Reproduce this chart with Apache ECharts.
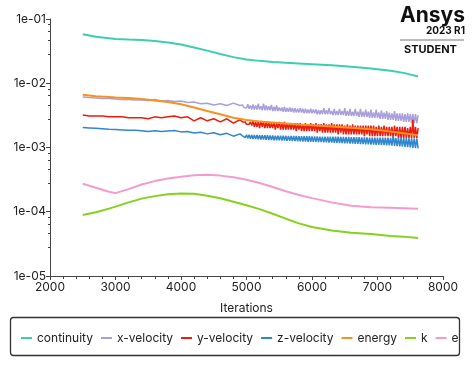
<!DOCTYPE html>
<html>
<head>
<meta charset="utf-8">
<script src="https://cdn.jsdelivr.net/npm/echarts@6/dist/echarts.min.js"></script>
<style>
html,body{margin:0;padding:0;background:#fff;}
#chart{width:474px;height:371px;}
</style>
</head>
<body>
<div id="chart"></div>
<script>
// ---- data ----
const seriesNames = ['continuity', 'x-velocity', 'y-velocity', 'z-velocity', 'energy', 'k', 'e'];
const yTickValues = [1e-5, 1e-4, 1e-3, 1e-2, 1e-1];
const xTickValues = [2000, 3000, 4000, 5000, 6000, 7000, 8000];

// smooth residuals
const iterCoarse = [2500, 2700, 2900, 3000, 3200, 3400, 3600, 3800, 4000, 4200, 4400, 4600, 4800,
  5000, 5200, 5400, 5600, 5800, 6000, 6300, 6600, 6900, 7200, 7400, 7620];
const continuity = [0.058, 0.053, 0.050, 0.049, 0.048, 0.0472, 0.0455, 0.0432, 0.040, 0.036, 0.0322, 0.0285, 0.0255,
  0.0235, 0.0223, 0.0215, 0.0208, 0.0203, 0.0198, 0.0190, 0.0181, 0.0170, 0.0157, 0.0145, 0.0127];
const energy = [0.0066, 0.0063, 0.0061, 0.0060, 0.0059, 0.0057, 0.0054, 0.0051, 0.0047, 0.0042, 0.0037, 0.0033, 0.0029,
  0.00268, 0.00255, 0.00245, 0.00237, 0.00229, 0.00222, 0.00213, 0.00203, 0.00192, 0.00178, 0.00167, 0.00155];
const kRes = [0.000089, 0.000098, 0.000112, 0.000120, 0.000140, 0.000160, 0.000175, 0.000187, 0.000193, 0.000190, 0.000178, 0.000162, 0.000143,
  0.000126, 0.000110, 0.000093, 0.000078, 0.000066, 0.000058, 0.000051, 0.000047, 0.000045, 0.000042, 0.000041, 0.000039];
const epsRes = [0.000272, 0.000237, 0.000205, 0.000195, 0.000225, 0.000265, 0.000300, 0.000330, 0.000352, 0.000370, 0.000375, 0.000365, 0.000345,
  0.000315, 0.000280, 0.000243, 0.000208, 0.000182, 0.000163, 0.000140, 0.000124, 0.000118, 0.000115, 0.000113, 0.000111];

// velocity residuals (fine sampling)
const iterFine = [2500, 2600, 2700, 2800, 2900, 3000, 3100, 3200, 3300, 3400, 3500, 3600, 3700, 3800, 3900,
  4000, 4100, 4200, 4300, 4400, 4500, 4600, 4700, 4800, 4900,
  4940, 4960, 4980, 5000, 5020, 5040, 5060, 5080, 5100, 5120,
  5140, 5160, 5180, 5200, 5220, 5240, 5260, 5280, 5300, 5320,
  5340, 5360, 5380, 5400, 5420, 5440, 5460, 5480, 5500, 5520,
  5540, 5560, 5580, 5600, 5620, 5640, 5660, 5680, 5700, 5720,
  5740, 5760, 5780, 5800, 5820, 5840, 5860, 5880, 5900, 5920,
  5940, 5960, 5980, 6000, 6020, 6040, 6060, 6080, 6100, 6120,
  6140, 6160, 6180, 6200, 6220, 6240, 6260, 6280, 6300, 6320,
  6340, 6360, 6380, 6400, 6420, 6440, 6460, 6480, 6500, 6520,
  6540, 6560, 6580, 6600, 6620, 6640, 6660, 6680, 6700, 6720,
  6740, 6760, 6780, 6800, 6820, 6840, 6860, 6880, 6900, 6920,
  6940, 6960, 6980, 7000, 7020, 7040, 7060, 7080, 7100, 7120,
  7140, 7160, 7180, 7200, 7220, 7240, 7260, 7280, 7300, 7320,
  7340, 7360, 7380, 7400, 7420, 7440, 7460, 7480, 7500, 7520,
  7540, 7560, 7580, 7600, 7620];
const xVel = [0.0061, 0.0060, 0.0059, 0.0058, 0.0058, 0.0057, 0.0056, 0.0056, 0.0055, 0.0055, 0.0054, 0.0056, 0.0053, 0.0054, 0.0052,
  0.0053, 0.0050, 0.0051, 0.0048, 0.0049, 0.0046, 0.0048, 0.0045, 0.0049, 0.0045,
  0.0046, 0.0042, 0.0045, 0.0041, 0.0047, 0.0040, 0.0045, 0.0039, 0.0047, 0.0039,
  0.0045, 0.0039, 0.0048, 0.0039, 0.0044, 0.0038, 0.0048, 0.0038, 0.0045, 0.0038,
  0.0044, 0.0038, 0.0046, 0.0037, 0.0043, 0.0037, 0.0045, 0.0037, 0.0042, 0.0037,
  0.0042, 0.0036, 0.0043, 0.0036, 0.0041, 0.0036, 0.0042, 0.0036, 0.0041, 0.0035,
  0.0041, 0.0035, 0.0040, 0.0035, 0.0041, 0.0035, 0.0040, 0.0034, 0.0040, 0.0034,
  0.0039, 0.0034, 0.0040, 0.0034, 0.0039, 0.0034, 0.0039, 0.0033, 0.0038, 0.0033,
  0.0038, 0.0033, 0.0041, 0.0033, 0.0038, 0.0033, 0.0041, 0.0033, 0.0037, 0.0032,
  0.0040, 0.0032, 0.0037, 0.0032, 0.0040, 0.0032, 0.0037, 0.0032, 0.0041, 0.0031,
  0.0037, 0.0031, 0.0040, 0.0031, 0.0036, 0.0031, 0.0040, 0.0031, 0.0036, 0.0030,
  0.0040, 0.0030, 0.0036, 0.0030, 0.0039, 0.0030, 0.0036, 0.0029, 0.0039, 0.0029,
  0.0035, 0.0029, 0.0039, 0.0029, 0.0035, 0.0028, 0.0038, 0.0028, 0.0035, 0.0028,
  0.0037, 0.0027, 0.0035, 0.0027, 0.0034, 0.0027, 0.0037, 0.0026, 0.0034, 0.0026,
  0.0034, 0.0026, 0.0034, 0.0025, 0.0033, 0.0025, 0.0034, 0.0025, 0.0033, 0.0024,
  0.0033, 0.0024, 0.0033, 0.0024, 0.0032];
const yVel = [0.0032, 0.0031, 0.0031, 0.0031, 0.0030, 0.0030, 0.0030, 0.0029, 0.0029, 0.0029, 0.0028, 0.0030, 0.0029, 0.0030, 0.0031,
  0.0029, 0.0030, 0.0026, 0.0029, 0.0026, 0.0028, 0.0025, 0.0028, 0.0024, 0.0027,
  0.0025, 0.0024, 0.0025, 0.0023, 0.0024, 0.0023, 0.0025, 0.0022, 0.0026, 0.0021,
  0.0025, 0.0021, 0.0025, 0.0020, 0.0026, 0.0021, 0.0025, 0.0020, 0.0025, 0.0020,
  0.0025, 0.0020, 0.0024, 0.0020, 0.0025, 0.0019, 0.0024, 0.0020, 0.0025, 0.0019,
  0.0024, 0.0019, 0.0025, 0.0019, 0.0024, 0.0019, 0.0024, 0.0019, 0.0024, 0.0019,
  0.0024, 0.0018, 0.0024, 0.0019, 0.0024, 0.0018, 0.0023, 0.0018, 0.0024, 0.0018,
  0.0023, 0.0018, 0.0024, 0.0018, 0.0023, 0.0018, 0.0024, 0.0017, 0.0023, 0.0018,
  0.0023, 0.0017, 0.0024, 0.0017, 0.0023, 0.0017, 0.0023, 0.0017, 0.0024, 0.0017,
  0.0023, 0.0017, 0.0023, 0.0016, 0.0023, 0.0017, 0.0023, 0.0016, 0.0022, 0.0016,
  0.0023, 0.0016, 0.0022, 0.0016, 0.0023, 0.0016, 0.0022, 0.0016, 0.0022, 0.0016,
  0.0022, 0.0016, 0.0022, 0.0015, 0.0022, 0.0016, 0.0022, 0.0015, 0.0022, 0.0015,
  0.0022, 0.0015, 0.0021, 0.0015, 0.0022, 0.0015, 0.0021, 0.0015, 0.0022, 0.0015,
  0.0021, 0.0015, 0.0021, 0.0015, 0.0021, 0.0014, 0.0022, 0.0015, 0.0021, 0.0014,
  0.0021, 0.0014, 0.0021, 0.0014, 0.0021, 0.0014, 0.0020, 0.0014, 0.0021, 0.0014,
  0.0027, 0.0014, 0.0021, 0.0014, 0.0020];
const zVel = [0.00205, 0.00202, 0.00199, 0.00196, 0.00192, 0.00190, 0.00188, 0.00186, 0.00185, 0.00183, 0.00178, 0.00182, 0.00177, 0.00181, 0.00184,
  0.00175, 0.00178, 0.00168, 0.00173, 0.00163, 0.00170, 0.00158, 0.00166, 0.00150, 0.00163,
  0.00152, 0.00160, 0.00142, 0.00158, 0.00139, 0.00158, 0.00137, 0.00157, 0.00136, 0.00157,
  0.00135, 0.00156, 0.00134, 0.00156, 0.00133, 0.00155, 0.00133, 0.00155, 0.00132, 0.00155,
  0.00131, 0.00154, 0.00131, 0.00154, 0.00130, 0.00153, 0.00130, 0.00153, 0.00129, 0.00153,
  0.00128, 0.00152, 0.00128, 0.00152, 0.00127, 0.00152, 0.00127, 0.00151, 0.00126, 0.00151,
  0.00126, 0.00151, 0.00125, 0.00150, 0.00125, 0.00150, 0.00124, 0.00150, 0.00124, 0.00150,
  0.00123, 0.00150, 0.00123, 0.00149, 0.00122, 0.00149, 0.00122, 0.00149, 0.00121, 0.00148,
  0.00121, 0.00148, 0.00120, 0.00148, 0.00120, 0.00148, 0.00119, 0.00147, 0.00119, 0.00147,
  0.00118, 0.00147, 0.00118, 0.00147, 0.00117, 0.00146, 0.00117, 0.00146, 0.00116, 0.00146,
  0.00116, 0.00146, 0.00115, 0.00145, 0.00115, 0.00145, 0.00114, 0.00145, 0.00114, 0.00145,
  0.00113, 0.00144, 0.00113, 0.00144, 0.00112, 0.00144, 0.00112, 0.00143, 0.00111, 0.00143,
  0.00111, 0.00143, 0.00110, 0.00143, 0.00110, 0.00142, 0.00109, 0.00142, 0.00109, 0.00142,
  0.00108, 0.00142, 0.00108, 0.00141, 0.00107, 0.00152, 0.00106, 0.00141, 0.00105, 0.00141,
  0.00104, 0.00141, 0.00103, 0.00140, 0.00102, 0.00140, 0.00101, 0.00139, 0.00100, 0.00139,
  0.00099, 0.00138, 0.00098, 0.00138, 0.00097];

const colors = ['#3ccfae', '#a99fdc', '#ee1c0e', '#2f87d0', '#f7921f', '#86d11c', '#f59bcb'];

// ---- chart ----
const zip = (xs, ys) => xs.map((x, i) => [x, ys[i]]);
const seriesData = [
  zip(iterCoarse, continuity),
  zip(iterFine, xVel),
  zip(iterFine, yVel),
  zip(iterFine, zVel),
  zip(iterCoarse, energy),
  zip(iterCoarse, kRes),
  zip(iterCoarse, epsRes)
];
const widths = [2, 1.5, 1.5, 1.5, 2, 2, 2];
const FONT = 'Inter';

function fmtLog(v) {
  const e = Math.round(Math.log10(v));
  return '1e' + (e < 0 ? '-' : '+') + String(Math.abs(e)).padStart(2, '0');
}

const chart = echarts.init(document.getElementById('chart'), null, {renderer: 'canvas'});
chart.setOption({
  animation: false,
  color: colors,
  textStyle: {fontFamily: FONT},
  grid: {left: 50, right: 31, top: 19, bottom: 95, containLabel: false},
  legend: {
    data: seriesNames,
    left: 16, top: 327,
    width: 1000,
    icon: 'rect',
    itemWidth: 11, itemHeight: 2,
    itemGap: 8,
    textStyle: {fontFamily: FONT, fontSize: 12, color: '#222'}
  },
  xAxis: {
    type: 'value', min: xTickValues[0], max: xTickValues[xTickValues.length - 1], interval: 1000,
    name: 'Iterations', nameLocation: 'middle', nameGap: 26,
    nameTextStyle: {fontFamily: FONT, fontSize: 12, color: '#222'},
    axisLine: {show: true, lineStyle: {color: '#444', width: 1}},
    axisTick: {show: true, length: 4, lineStyle: {color: '#444'}},
    minorTick: {show: true, splitNumber: 5, length: 3, lineStyle: {color: '#444'}},
    axisLabel: {fontFamily: FONT, fontSize: 12, color: '#222', margin: 5, formatter: v => String(v)},
    splitLine: {show: false}
  },
  yAxis: {
    type: 'log', logBase: 10, min: yTickValues[0], max: yTickValues[yTickValues.length - 1],
    axisLine: {show: true, lineStyle: {color: '#444', width: 1}},
    axisTick: {show: true, length: 4, lineStyle: {color: '#444'}},
    minorTick: {show: true, splitNumber: 5, length: 2, lineStyle: {color: '#444'}},
    axisLabel: {fontFamily: FONT, fontSize: 12, color: '#222', margin: 4, formatter: fmtLog},
    splitLine: {show: false}
  },
  series: seriesNames.map((n, i) => ({
    name: n, type: 'line', data: seriesData[i], showSymbol: false, symbol: 'none',
    lineStyle: {width: widths[i], color: colors[i]}, itemStyle: {color: colors[i]}
  })),
  graphic: [
    {type: 'rect', shape: {x: 10.5, y: 317.5, width: 449, height: 38, r: 3},
     style: {fill: 'none', stroke: '#333', lineWidth: 1.3}, z: 100},
    {type: 'text', right: 9, top: 5,
     style: {text: 'Ansys', font: 'bold 21px Inter', fill: '#111'}, z: 100},
    {type: 'text', right: 9, top: 26,
     style: {text: '2023 R1', font: 'bold 10px Inter', fill: '#111'}, z: 100},
    {type: 'line', shape: {x1: 400, y1: 40, x2: 464, y2: 40},
     style: {stroke: '#777', lineWidth: 1}, z: 100},
    {type: 'text', left: 404, top: 44,
     style: {text: 'STUDENT', font: 'bold 11px Inter', fill: '#111'}, z: 100}
  ]
});
</script>
</body>
</html>
